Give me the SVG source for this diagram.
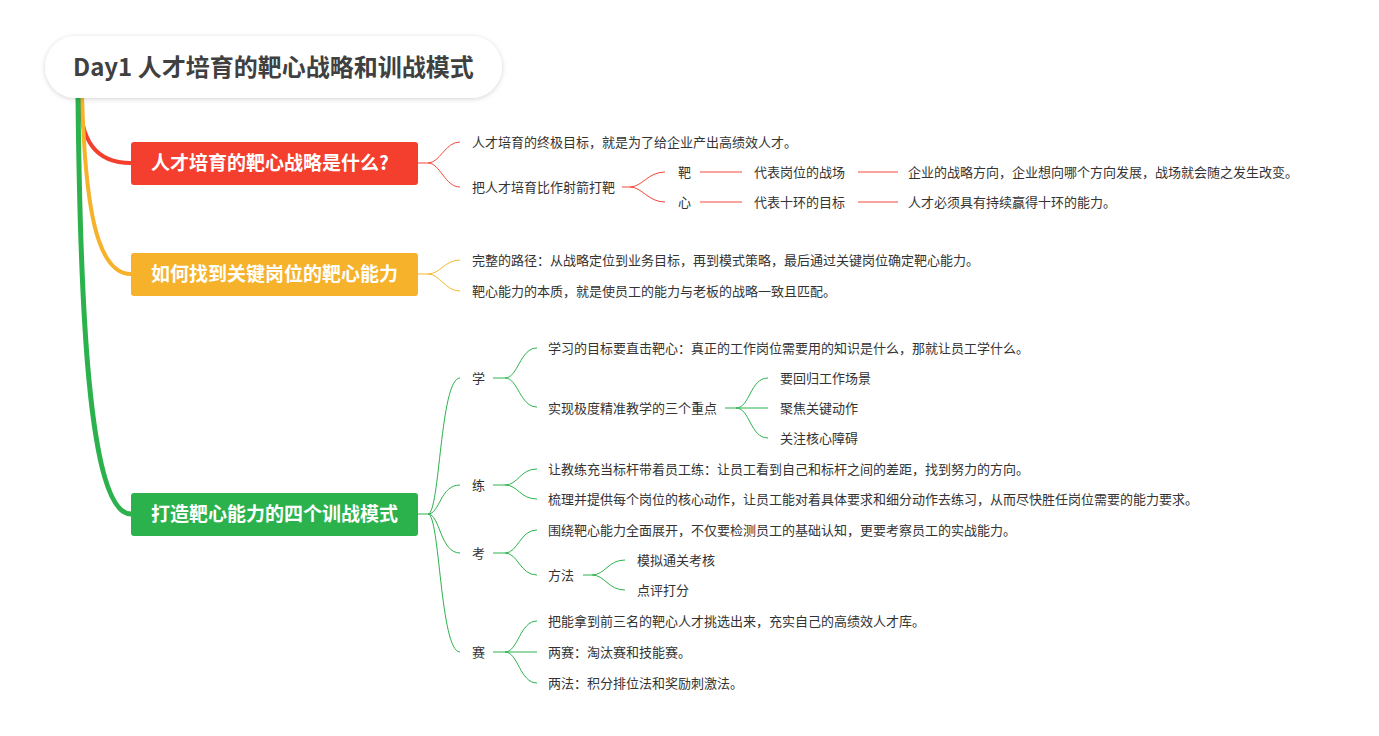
<svg xmlns="http://www.w3.org/2000/svg" width="1379" height="736" viewBox="0 0 1379 736">
<style>
.t{font-family:"Noto Sans CJK SC","Liberation Sans",sans-serif;font-size:13px;fill:#333}
.m{font-family:"Noto Sans CJK SC","Liberation Sans",sans-serif;font-size:19px;font-weight:bold;fill:#fff}
.r{fill:none;stroke:#f5483a;stroke-width:1}
.y{fill:none;stroke:#f6b72b;stroke-width:1}
.g{fill:none;stroke:#2bb24c;stroke-width:1}
</style>
<defs><filter id="sh" x="-10%" y="-30%" width="120%" height="160%"><feDropShadow dx="0" dy="1" stdDeviation="2.5" flood-color="#000" flood-opacity="0.18"/></filter></defs>
<rect width="1379" height="736" fill="#fff"/>
<g id="connectors">
<path d="M80 96 C80 140 95 163 131 163" stroke="#f43f2f" stroke-width="4" fill="none"/>
<path d="M82 96 C85 200 95 274 131 274" stroke="#f6b22b" stroke-width="4" fill="none"/>
<path d="M78 96 C80 300 88 514 131 514" stroke="#2bb24c" stroke-width="5" fill="none"/>
<path class="r" d="M418 163 H428 C440 163 445 142 460 142 M428 163 C440 163 445 187 460 187"/>
<path class="r" d="M622 187 H630 C642 187 648 172 665 172 M630 187 C642 187 648 202 665 202"/>
<path class="r" d="M700 172 H742 M858 172 H898 M700 202 H742 M858 202 H898"/>
<path class="y" d="M418 274 H428 C440 274 445 260 460 260 M428 274 C440 274 445 291 460 291"/>
<path class="g" d="M418 514 H428 C440 514 440 378 460 378 M428 514 C440 514 440 485 460 485 M428 514 C440 514 440 553 460 553 M428 514 C440 514 440 652 460 652"/>
<path class="g" d="M493 378 H505 C518 378 520 348 537 348 M505 378 C518 378 520 407 537 407"/>
<path class="g" d="M725 408 H736 C750 408 750 378 768 378 M736 408 H768 M736 408 C750 408 750 438 768 438"/>
<path class="g" d="M493 485 H505 C518 485 520 469 537 469 M505 485 C518 485 520 499 537 499"/>
<path class="g" d="M493 553 H505 C518 553 520 530 537 530 M505 553 C518 553 520 575 537 575"/>
<path class="g" d="M583 575 H592 C605 575 608 560 625 560 M592 575 C605 575 608 590 625 590"/>
<path class="g" d="M493 652 H505 C518 652 520 621 537 621 M505 652 H537 M505 652 C518 652 520 683 537 683"/>
</g>
<g id="root"><rect x="45" y="36" width="457" height="62" rx="31" fill="#fff" filter="url(#sh)"/>
<text x="73" y="76" font-family="Noto Sans CJK SC,Liberation Sans,sans-serif" font-size="24" font-weight="bold" fill="#404040">Day1 人才培育的靶心战略和训战模式</text></g>
<g id="n1"><rect x="131" y="142" width="287" height="43" rx="3" fill="#f43f2f"/><text class="m" x="151" y="170">人才培育的靶心战略是什么?</text></g>
<g id="n2"><rect x="131" y="253" width="287" height="43" rx="3" fill="#f6b22b"/><text class="m" x="151" y="281">如何找到关键岗位的靶心能力</text></g>
<g id="n3"><rect x="131" y="493" width="287" height="43" rx="3" fill="#2bb24c"/><text class="m" x="151" y="521">打造靶心能力的四个训战模式</text></g>
<g id="leaves">
<text class="t" x="472" y="147">人才培育的终极目标，就是为了给企业产出高绩效人才。</text>
<text class="t" x="472" y="192">把人才培育比作射箭打靶</text>
<text class="t" x="678" y="177">靶</text>
<text class="t" x="678" y="207">心</text>
<text class="t" x="754" y="177">代表岗位的战场</text>
<text class="t" x="754" y="207">代表十环的目标</text>
<text class="t" x="908" y="177">企业的战略方向，企业想向哪个方向发展，战场就会随之发生改变。</text>
<text class="t" x="908" y="207">人才必须具有持续赢得十环的能力。</text>
<text class="t" x="472" y="265">完整的路径：从战略定位到业务目标，再到模式策略，最后通过关键岗位确定靶心能力。</text>
<text class="t" x="472" y="296">靶心能力的本质，就是使员工的能力与老板的战略一致且匹配。</text>
<text class="t" x="472" y="383">学</text>
<text class="t" x="472" y="490">练</text>
<text class="t" x="472" y="558">考</text>
<text class="t" x="472" y="657">赛</text>
<text class="t" x="548" y="353">学习的目标要直击靶心：真正的工作岗位需要用的知识是什么，那就让员工学什么。</text>
<text class="t" x="548" y="413">实现极度精准教学的三个重点</text>
<text class="t" x="780" y="383">要回归工作场景</text>
<text class="t" x="780" y="413">聚焦关键动作</text>
<text class="t" x="780" y="443">关注核心障碍</text>
<text class="t" x="548" y="474">让教练充当标杆带着员工练：让员工看到自己和标杆之间的差距，找到努力的方向。</text>
<text class="t" x="548" y="504">梳理并提供每个岗位的核心动作，让员工能对着具体要求和细分动作去练习，从而尽快胜任岗位需要的能力要求。</text>
<text class="t" x="548" y="535">围绕靶心能力全面展开，不仅要检测员工的基础认知，更要考察员工的实战能力。</text>
<text class="t" x="548" y="580">方法</text>
<text class="t" x="637" y="565">模拟通关考核</text>
<text class="t" x="637" y="595">点评打分</text>
<text class="t" x="548" y="626">把能拿到前三名的靶心人才挑选出来，充实自己的高绩效人才库。</text>
<text class="t" x="548" y="657">两赛：淘汰赛和技能赛。</text>
<text class="t" x="548" y="688">两法：积分排位法和奖励刺激法。</text>
</g>
</svg>
